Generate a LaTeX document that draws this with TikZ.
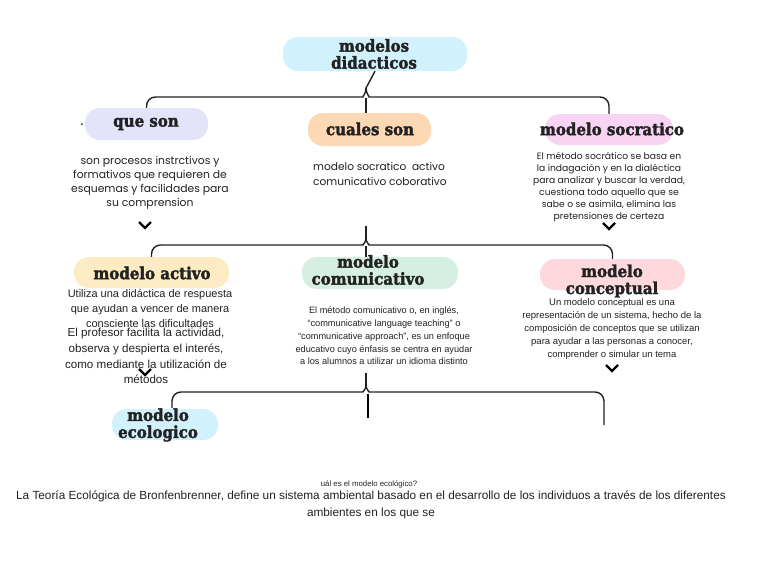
\documentclass[tikz,border=0pt]{standalone}
\usepackage{fontspec}
\setmainfont{Liberation Sans}
\newfontfamily\headfont{DejaVu Serif}[FakeStretch=0.91, BoldFeatures={FakeBold=2}]
\newfontfamily\roundfont{Poppins}
\definecolor{ink}{HTML}{222222}
\definecolor{cyanbg}{HTML}{D1F1FC}
\definecolor{lavbg}{HTML}{E3E3FA}
\definecolor{peachbg}{HTML}{FDD8B4}
\definecolor{socbg}{HTML}{F9D3F4}
\definecolor{yelbg}{HTML}{FDEBC3}
\definecolor{mintbg}{HTML}{D5EFE2}
\definecolor{conbg}{HTML}{FDD8DC}
\tikzset{
  pill/.style={rounded corners=15pt, inner sep=0pt, draw=none},
  head/.style={font={\headfont\bfseries\fontsize{16.5}{17}\selectfont}, text=ink, align=center, inner sep=0pt},
  rtext/.style={font={\roundfont\fontsize{10.8}{14}\selectfont}, text=ink, align=center, inner sep=0pt},
  atext/.style={text=ink, align=center, inner sep=0pt},
  conn/.style={draw=ink, line width=1.4pt, rounded corners=9pt},
  chev/.style={draw=black, line width=2.3pt, line join=miter},
}
\begin{document}
\begin{tikzpicture}[x=1pt,y=-1pt]
\useasboundingbox[fill=white] (0,0) rectangle (768,576);

% ---------- level 0
\node[pill, fill=cyanbg, minimum width=184pt, minimum height=34pt] (top) at (375,54) {};
\node[head] (toptxt) at (374,54) {modelos\\didacticos};

% ---------- level 1 boxes
\node[pill, fill=lavbg, minimum width=123pt, minimum height=32pt] (qs) at (146.5,124) {};
\node[head] (qstxt) at (146,124) {que son};
\node[circle, fill=ink, inner sep=0pt, minimum size=2pt] (dot) at (82,124) {};

\node[pill, fill=peachbg, minimum width=123pt, minimum height=33pt] (cs) at (369.5,129.5) {};
\node[head] (cstxt) at (370,129) {cuales son};

\node[pill, fill=socbg, minimum width=128pt, minimum height=31pt] (soc) at (609,129.5) {};
\node[head] (soctxt) at (612,129) {modelo socratico};

% brace 1
\coordinate (b1) at (366,88);
\draw[conn] (top.south) -- (b1);
\draw[conn] (b1) .. controls (366,94) and (362,97) .. (354,97) -| (qs.north);
\draw[conn] (b1) .. controls (366,94) and (370,97) .. (378,97) -| (soc.north);
\draw[conn] (366,98) -- (366,0 |- cs.north);

% level 1 texts
\node[rtext] (qsdesc) at (150,183) {son procesos instrctivos y\\formativos que requieren de\\esquemas y facilidades para\\su comprension};
\node[rtext, font={\roundfont\fontsize{10.6}{15}\selectfont}, align=left, anchor=west] (csdesc) at (313,174) {modelo socratico\ \ activo\\comunicativo coborativo};
\node[rtext, font={\roundfont\fontsize{9.2}{12}\selectfont}] (socdesc) at (609,187) {El método socrático se basa en\\la indagación y en la dialéctica\\para analizar y buscar la verdad,\\cuestiona todo aquello que se\\sabe o se asimila, elimina las\\pretensiones de certeza};

% chevrons
\draw[chev] (139,222) -- (145,228) -- (151,222);
\draw[chev] (603,223) -- (609,229) -- (615,223);

% ---------- level 2 boxes
\node[pill, fill=yelbg, minimum width=155pt, minimum height=31pt] (act) at (151.5,272.5) {};
\node[head] (acttxt) at (152,273) {modelo activo};

\node[pill, fill=mintbg, minimum width=156pt, minimum height=32pt] (com) at (380,273) {};
\node[head] (comtxt) at (368,270) {modelo\\comunicativo};

\node[pill, fill=conbg, minimum width=145pt, minimum height=31pt] (con) at (612.5,274.5) {};
\node[head] (contxt) at (612,281) {modelo\\conceptual};

% brace 2
\coordinate (s2) at (366,226);
\coordinate (b2) at (366,238);
\draw[conn] (s2) -- (b2);
\draw[conn] (b2) .. controls (366,243) and (362,245) .. (354,245) -| (act.north);
\draw[conn] (b2) .. controls (366,243) and (370,245) .. (378,245) -| (con.north);
\draw[conn] (366,246) -- (366,0 |- com.north);

% level 2 texts
\node[atext, font={\fontsize{11}{15}\selectfont}] (actdesc1) at (150,308) {Utiliza una didáctica de respuesta\\que ayudan a vencer de manera\\consciente las dificultades};
\node[atext, font={\fontsize{11.6}{15.7}\selectfont}] (actdesc2) at (146,356) {El profesor facilita la actividad,\\observa y despierta el interés,\\como mediante la utilización de\\métodos};
\node[atext, font={\fontsize{9.2}{12.8}\selectfont}] (comdesc) at (384,336) {El método comunicativo o, en inglés,\\“communicative language teaching” o\\“communicative approach”, es un enfoque\\educativo cuyo énfasis se centra en ayudar\\a los alumnos a utilizar un idioma distinto};
\node[atext, font={\fontsize{9.5}{13}\selectfont}] (condesc) at (612,329) {Un modelo conceptual es una\\representación de un sistema, hecho de la\\composición de conceptos que se utilizan\\para ayudar a las personas a conocer,\\comprender o simular un tema};

\draw[chev] (139,369) -- (145,375) -- (151,369);
\draw[chev] (606,365) -- (612,371) -- (618,365);

% ---------- level 3
\node[pill, fill=cyanbg, minimum width=106pt, minimum height=31pt] (eco) at (165,424.5) {};
\node[head] (ecotxt) at (158,425) {modelo\\ecologico};

\coordinate (s3) at (366,373);
\coordinate (b3) at (366,385);
\coordinate (e3l) at (172,408);
\coordinate (e3r) at (604,425);
\coordinate (m3a) at (368,394);
\coordinate (m3b) at (368,418);
\draw[conn] (s3) -- (b3);
\draw[conn] (b3) .. controls (366,390) and (362,392) .. (354,392) -| (e3l);
\draw[conn] (b3) .. controls (366,390) and (370,392) .. (378,392) -| (e3r);
\draw[draw=black, line width=2.4pt] (m3a) -- (m3b);

% bottom text
\node[atext, font={\fontsize{7.8}{9}\selectfont}] (q) at (369,484) {uál es el modelo ecológico?};
\node[atext, font={\fontsize{11.8}{17}\selectfont}] (eco1) at (371,504.5) {La Teoría Ecológica de Bronfenbrenner, define un sistema ambiental basado en el desarrollo de los individuos a través de los diferentes\\ambientes en los que se};
\end{tikzpicture}
\end{document}
